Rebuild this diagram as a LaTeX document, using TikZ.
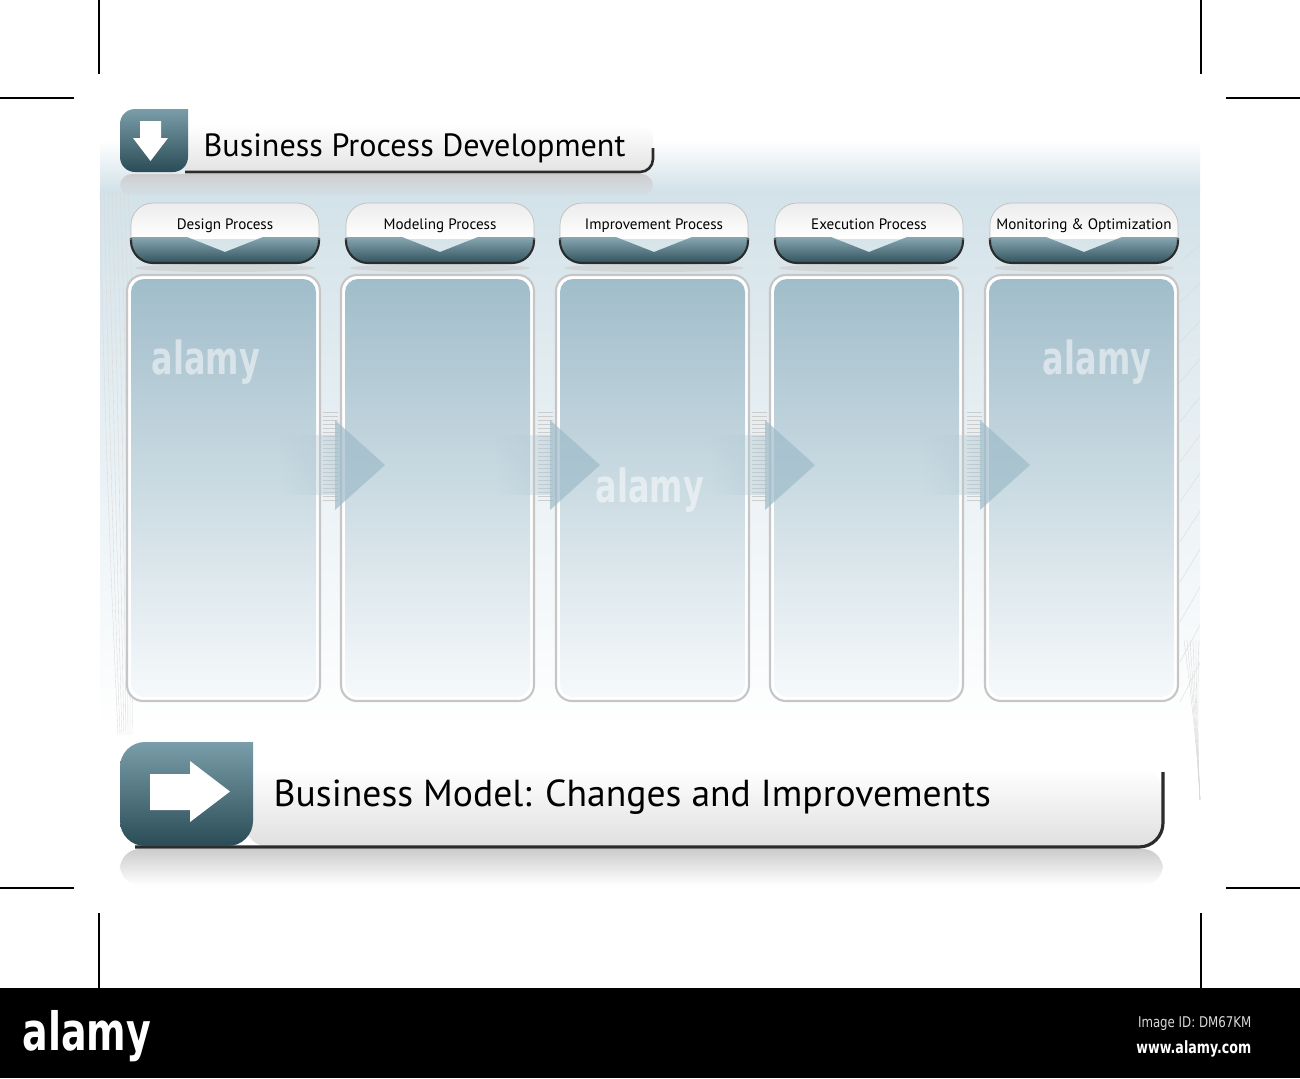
\documentclass[tikz,border=0pt]{standalone}
\usepackage{fontspec}
\usepackage{graphicx}
\setmainfont{PT Sans}
\newfontfamily\wm{DejaVu Sans}
\usetikzlibrary{fadings}
\definecolor{tealT}{HTML}{7A9EA9}
\definecolor{tealB}{HTML}{2A4C57}
\definecolor{bgblue}{HTML}{D3E2E9}
\definecolor{colTop}{HTML}{A0BDCA}
\definecolor{colBot}{HTML}{F6F9FB}
\definecolor{edge}{HTML}{2B2B2B}
\definecolor{arrowc}{HTML}{9DBBC9}
\tikzfading[name=fadein, left color=transparent!100, right color=transparent!0]
\tikzfading[name=fadedown, top color=transparent!0, bottom color=transparent!100]
\tikzset{
  crop/.style={line width=0.45pt, black},
  pilltext/.style={font=\fontsize{4.3pt}{5pt}\selectfont, text=black, inner sep=0pt},
  colframe/.style={draw=gray!45, line width=0.6pt, fill=white, rounded corners=1.6mm},
  wmark/.style={text=white, opacity=0.5, inner sep=0pt, font=\wm\bfseries\fontsize{13pt}{14pt}\selectfont},
  bgline/.style={gray!30, line width=0.1pt},
}
\begin{document}
\begin{tikzpicture}[x=0.1mm,y=-0.1mm]
\useasboundingbox (0,0) rectangle (1300,1078);
\fill[white] (0,0) rectangle (1300,1078);

% background
\shade[top color=white, bottom color=bgblue] (100,140) rectangle (1200,190);
\shade[top color=bgblue, bottom color=white] (100,190) rectangle (1200,730);
\foreach \i in {0,...,7}{
  \draw[bgline] (100+\i*4,190) .. controls (104+\i*5,420) and (112+\i*3,600) .. (118+\i*2,735);
}
\foreach \i in {0,...,11}{
  \draw[bgline] (1180,262+\i*40) -- (1200,245+\i*38);
}
\foreach \i in {0,...,5}{
  \draw[bgline] (1184+\i*3,640) .. controls (1192+\i,700) and (1198,760) .. (1200,800);
}

% title reflection
\fill[gray!40, path fading=fadedown, rounded corners=1.2mm] (120,174) rectangle (653,196);
% title bar
\shade[top color=white, bottom color=gray!22, rounded corners=1.4mm] (180,125) -- (653,125) -- (653,172) -- (180,172) -- cycle;
\draw[edge, line width=0.75pt, rounded corners=1.3mm] (653,148) -- (653,172) -- (185,172);
\shade[top color=tealT, bottom color=tealB, rounded corners=1.5mm] (188,109) -- (120,109) -- (120,172) -- (188,172) [sharp corners] -- cycle;
\fill[white] (140,121) -- (161,121) -- (161,138) -- (168,138) -- (150.5,161) -- (133,138) -- (140,138) -- cycle;
\node[anchor=base west, inner sep=0pt, font=\fontsize{9.15pt}{11pt}\selectfont] (title) at (203,156) {Business Process Development};

% header pills
\foreach \cx/\lab/\nm in {225/Design Process/p1, 440/Modeling Process/p2, 654/Improvement Process/p3, 869/Execution Process/p4, 1084/Monitoring \& Optimization/p5}{
  \fill[gray!35, opacity=0.8] (\cx,268) ellipse[x radius=90, y radius=4];
  \begin{scope}
    \clip[rounded corners=2.2mm] (\cx-94,203) rectangle (\cx+94,263);
    \shade[top color=gray!15, bottom color=white] (\cx-94,203) rectangle (\cx+94,238);
    \shade[top color=tealT!90, bottom color=tealB] (\cx-100,237) -- (\cx-38,237) -- (\cx,252) -- (\cx+38,237) -- (\cx+100,237) -- (\cx+100,265) -- (\cx-100,265) -- cycle;
  \end{scope}
  \draw[edge, line width=0.6pt, rounded corners=2.2mm] (\cx-94,238) -- (\cx-94,263) -- (\cx+94,263) -- (\cx+94,238);
  \draw[gray!50, line width=0.2pt, rounded corners=2.2mm] (\cx-94,240) -- (\cx-94,203) -- (\cx+94,203) -- (\cx+94,240);
  \node[pilltext, anchor=base] (\nm) at (\cx,229) {\lab};
}

% columns
\foreach \x/\nm in {127/c1, 341/c2, 556/c3, 770/c4, 985/c5}{
  \draw[colframe] (\x,275) rectangle (\x+193,701);
  \shade[top color=colTop, bottom color=colBot, rounded corners=1.3mm] (\x+4,279) rectangle (\x+189,697);
  \coordinate (\nm) at (\x+96,488);
}

% faint hatches in gaps
\foreach \gx in {323,538,752,967}{
  \foreach \k in {0,...,22}{
    \draw[gray!40, line width=0.1pt] (\gx,412+\k*4) -- (\gx+15,412+\k*4);
  }
}

% watermarks
\node[wmark] (w1) at (206,362) {\scalebox{0.7}[1]{alamy}};
\node[wmark] (w2) at (650,490) {\scalebox{0.7}[1]{alamy}};
\node[wmark] (w3) at (1097,362) {\scalebox{0.7}[1]{alamy}};

% transition arrows
\foreach \ax in {385,600,815,1030}{
  \fill[arrowc!80, opacity=0.5, path fading=fadein] (\ax-105,435) rectangle (\ax-50,495);
  \fill[arrowc, opacity=0.7] (\ax-50,420) -- (\ax,465) -- (\ax-50,510) -- cycle;
}

% bottom bar reflection
\fill[gray!40, path fading=fadedown, rounded corners=2mm] (120,849) rectangle (1163,885);
% bottom bar
\shade[top color=white, bottom color=gray!25, rounded corners=2.4mm] (245,768) -- (1163,768) -- (1163,847) -- (245,847) -- cycle;
\draw[edge, line width=0.9pt, rounded corners=2.4mm] (1163,772) -- (1163,847) -- (135,847);
\shade[top color=tealT, bottom color=tealB, rounded corners=2.5mm] (253,742) -- (120,742) -- (120,846) -- (253,846) [sharp corners] -- cycle;
\fill[white] (150,774) -- (190,774) -- (190,761) -- (230,791.5) -- (190,822) -- (190,810) -- (150,810) -- cycle;
\node[anchor=base west, inner sep=0pt, font=\fontsize{10.7pt}{12pt}\selectfont] (bottomtitle) at (273,806) {Business Model: Changes and Improvements};

% crop marks
\draw[crop] (99,0) -- (99,74);
\draw[crop] (1201,0) -- (1201,74);
\draw[crop] (0,98) -- (74,98);
\draw[crop] (1226,98) -- (1300,98);
\draw[crop] (0,888) -- (74,888);
\draw[crop] (1226,888) -- (1300,888);
\draw[crop] (99,913) -- (99,988);
\draw[crop] (1201,913) -- (1201,988);

% stock bar
\fill[black] (0,988) rectangle (1300,1078);
\node[anchor=base west, inner sep=0pt, text=white, font=\wm\bfseries\fontsize{15pt}{16pt}\selectfont] (logo) at (22,1050) {\scalebox{0.72}[1]{alamy}};
\node[anchor=base east, inner sep=0pt, text=white!85!black, font=\wm\fontsize{4.2pt}{5pt}\selectfont] (imgid) at (1252,1027) {\scalebox{0.8}[1]{Image ID: DM67KM}};
\node[anchor=base east, inner sep=0pt, text=white, font=\wm\bfseries\fontsize{4.8pt}{6pt}\selectfont] (url) at (1252,1053) {\scalebox{0.75}[1]{www.alamy.com}};
\end{tikzpicture}
\end{document}
